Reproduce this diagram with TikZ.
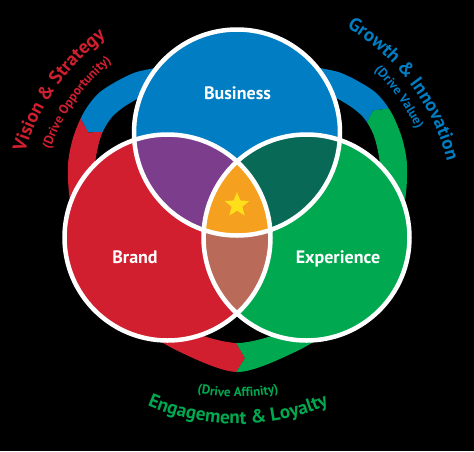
\documentclass[tikz,border=0pt]{standalone}
\usepackage{fontspec}
\setmainfont{PT Sans}
\usetikzlibrary{shapes.geometric,decorations.text}
\definecolor{bizblue}{RGB}{0,125,195}
\definecolor{brandred}{RGB}{210,31,48}
\definecolor{expgreen}{RGB}{0,169,80}
\definecolor{lenspurple}{RGB}{124,62,140}
\definecolor{lensteal}{RGB}{8,106,86}
\definecolor{lensclay}{RGB}{186,106,88}
\definecolor{coreorange}{RGB}{245,160,30}
\definecolor{staryellow}{RGB}{255,222,26}
\newcommand{\bigcurvefont}{\bfseries\fontsize{19}{19}\selectfont}
\newcommand{\smallcurvefont}{\bfseries\fontsize{13}{13}\selectfont}
% outer and inner edge of the cycle ring behind the circles
\newcommand{\ringpath}{plot[smooth cycle] coordinates {(237.5,55) (325,69) (348,76) (375,92) (391,112) (402,138) (407,165) (405,200) (393,245) (367,293) (335,327) (295,352) (237.5,372) (180,352) (140,327) (108,293) (82,245) (70,200) (68,165) (73,138) (84,112) (100,92) (127,76) (150,69)}
  plot[smooth cycle] coordinates {(237.5,82) (322,94) (345,103) (363,117) (374,136) (380,165) (378,198) (367,240) (345,282) (315,313) (280,333) (237.5,343) (195,333) (160,313) (130,282) (108,240) (97,198) (95,165) (101,136) (112,117) (130,103) (153,94)}}

\begin{document}
\begin{tikzpicture}[x=1pt, y=-1pt,
    venntext/.style={text=white, font=\bfseries\fontsize{18}{18}\selectfont, anchor=base},
    rim/.style={draw=white, line width=4.5pt},
    curvetext/.style={decorate, decoration={text along path, text align=center, text color=#1}}
]
\useasboundingbox (0,0) rectangle (474,451);
\fill[black] (0,0) rectangle (474,451);

% ring segments, each clipped to its wedge
\coordinate (ctr) at (237.5,210);
\coordinate (inL) at (106.1,131.6);
\coordinate (tipL) at (88.2,132.5);
\coordinate (outL) at (78.7,115.2);
\coordinate (farL) at (-239,-74);
\coordinate (inR) at (364.7,126.7);
\coordinate (tipR) at (373.2,110.4);
\coordinate (outR) at (393.1,108.1);
\coordinate (farR) at (704,-96);
\coordinate (inB) at (234.4,340);
\coordinate (tipB) at (245,358.2);
\coordinate (outB) at (233.6,376);
\coordinate (farB) at (226,708);
\begin{scope}
  \clip (ctr) -- (inL) -- (tipL) -- (outL) -- (farL) -- (-239,-700) -- (704,-700) -- (farR) -- (outR) -- (tipR) -- (inR) -- cycle;
  \fill[bizblue, even odd rule] \ringpath;
\end{scope}
\begin{scope}
  \clip (ctr) -- (inL) -- (tipL) -- (outL) -- (farL) -- (-700,-74) -- (-700,1100) -- (226,1100) -- (farB) -- (outB) -- (tipB) -- (inB) -- cycle;
  \fill[brandred, even odd rule] \ringpath;
\end{scope}
\begin{scope}
  \clip (ctr) -- (inB) -- (tipB) -- (outB) -- (farB) -- (226,1100) -- (1200,1100) -- (1200,-96) -- (farR) -- (outR) -- (tipR) -- (inR) -- cycle;
  \fill[expgreen, even odd rule] \ringpath;
\end{scope}

% the three circles and their overlaps
\coordinate (bizc) at (237,132.5);
\coordinate (brandc) at (167.5,237.5);
\coordinate (expc) at (306.5,237.5);
\fill[bizblue] (bizc) circle[radius=103];
\fill[brandred] (brandc) circle[radius=103];
\fill[expgreen] (expc) circle[radius=103];
\begin{scope}
  \clip (brandc) circle[radius=103];
  \fill[lensclay] (expc) circle[radius=103];
\end{scope}
\begin{scope}
  \clip (bizc) circle[radius=103];
  \fill[lenspurple] (brandc) circle[radius=103];
  \fill[lensteal] (expc) circle[radius=103];
  \clip (brandc) circle[radius=103];
  \fill[coreorange] (expc) circle[radius=103];
\end{scope}
\draw[rim] (bizc) circle[radius=103];
\draw[rim] (brandc) circle[radius=103];
\draw[rim] (expc) circle[radius=103];

\node[star, star points=5, star point ratio=2.3, fill=staryellow, minimum size=26pt, inner sep=0pt] (core) at (237,205) {};
\node[venntext] (business) at (237.5,99.5) {Business};
\node[venntext] (brand) at (135,263.5) {Brand};
\node[venntext] (experience) at (338,263.5) {Experience};

% curved captions
\path[curvetext=brandred, decoration={text={|\bigcurvefont|Vision {\&} Strategy}}]
  (237,215) ++(-172:221) arc[start angle=-172, end angle=-118, radius=221];
\path[curvetext=brandred, decoration={text={|\smallcurvefont|(Drive Opportunity)}}]
  (237,215) ++(-175:198) arc[start angle=-175, end angle=-115, radius=198];
\path[curvetext=bizblue, decoration={text={|\bigcurvefont|Growth {\&} Innovation}}]
  (237,215) ++(-67:217) arc[start angle=-67, end angle=-7, radius=217];
\path[curvetext=bizblue, decoration={text={|\smallcurvefont|(Drive Value)}}]
  (237,215) ++(-66:199) arc[start angle=-66, end angle=-6, radius=199];
\path[curvetext=expgreen, decoration={text={|\smallcurvefont|(Drive Affinity)}}]
  (238,196) ++(125:201) arc[start angle=125, end angle=55, radius=201];
\path[curvetext=expgreen, decoration={text={|\bigcurvefont|Engagement {\&} Loyalty}}]
  (238,196) ++(127:228) arc[start angle=127, end angle=53, radius=228];
\end{tikzpicture}
\end{document}
